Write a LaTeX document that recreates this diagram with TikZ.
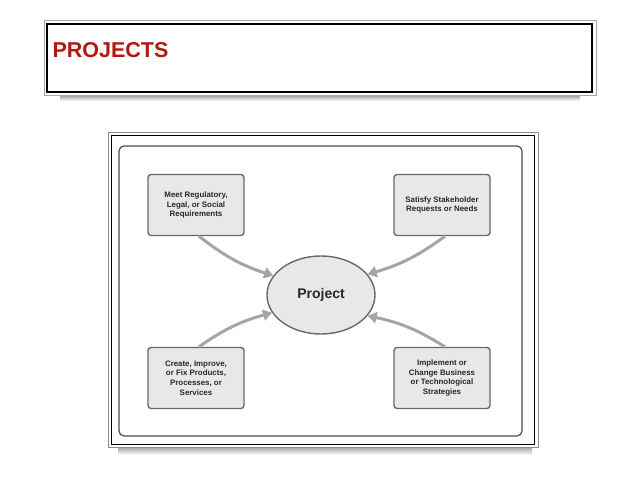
\documentclass[tikz,border=0pt]{standalone}
\usepackage{fontspec}
\setmainfont{Liberation Sans}
\usetikzlibrary{arrows.meta, shapes.geometric}
\definecolor{titlered}{RGB}{178, 24, 14}
\definecolor{boxfill}{RGB}{232, 232, 232}
\definecolor{boxline}{RGB}{105, 105, 105}
\definecolor{flowgray}{RGB}{165, 165, 165}
\definecolor{boxtext}{RGB}{40, 40, 40}

\begin{document}
\begin{tikzpicture}[x=1pt, y=-1pt,
		goalbox/.style={draw=boxline, fill=boxfill, line width=1.4pt, rounded corners=3pt,
			minimum width=96pt, minimum height=61pt, align=center, text=boxtext,
			font=\fontsize{7.9}{9.8}\selectfont\bfseries},
		flow/.style={draw=flowgray, line width=3pt, -{Triangle[width=11pt,length=9pt]}}]
	\useasboundingbox (0, 0) rectangle (638, 479);
	% title banner
	\shade [top color=black!60, bottom color=white] (60, 92) rectangle (580, 101);
	\filldraw [draw=black!35, fill=white, line width=0.8pt] (44, 20) rectangle (596, 95);
	\draw [black, line width=1.2pt] (47, 24) rectangle (592, 92);
	\node[anchor=base west, text=titlered, font=\fontsize{21.5}{24}\selectfont\bfseries] (title) at (49, 57) {PROJECTS};
	% picture frame
	\shade [top color=black!50, bottom color=white] (118, 444) rectangle (532, 455);
	\filldraw [draw=black!45, fill=white, line width=0.8pt] (108, 132) rectangle (538, 447);
	\draw [black, line width=1pt] (111, 135) rectangle (534, 444);
	\draw [draw=black!70, line width=1.2pt, rounded corners=5pt] (119, 146) rectangle (522, 436);
	% goals and project
	\node[goalbox] (meet) at (196, 205) {Meet Regulatory,\\Legal, or Social\\Requirements};
	\node[goalbox] (satisfy) at (442, 205) {Satisfy Stakeholder\\Requests or Needs};
	\node[goalbox] (create) at (196, 378) {Create, Improve,\\or Fix Products,\\Processes, or\\Services};
	\node[goalbox] (implement) at (442, 378) {Implement or\\Change Business\\or Technological\\Strategies};
	\node[ellipse, draw=boxline, fill=boxfill, line width=1.4pt, minimum width=108pt, minimum height=78pt,
		text=boxtext, font=\fontsize{14}{16}\selectfont\bfseries] (project) at (321, 295) {Project};
	\draw[flow] ([xshift=3pt]meet.south) to[bend right=10] (project.158);
	\draw[flow] ([xshift=3pt]satisfy.south) to[bend left=10] (project.24);
	\draw[flow] ([xshift=3pt]create.north) to[bend left=10] (project.200);
	\draw[flow] ([xshift=3pt]implement.north) to[bend right=10] (project.336);
\end{tikzpicture}
\end{document}
